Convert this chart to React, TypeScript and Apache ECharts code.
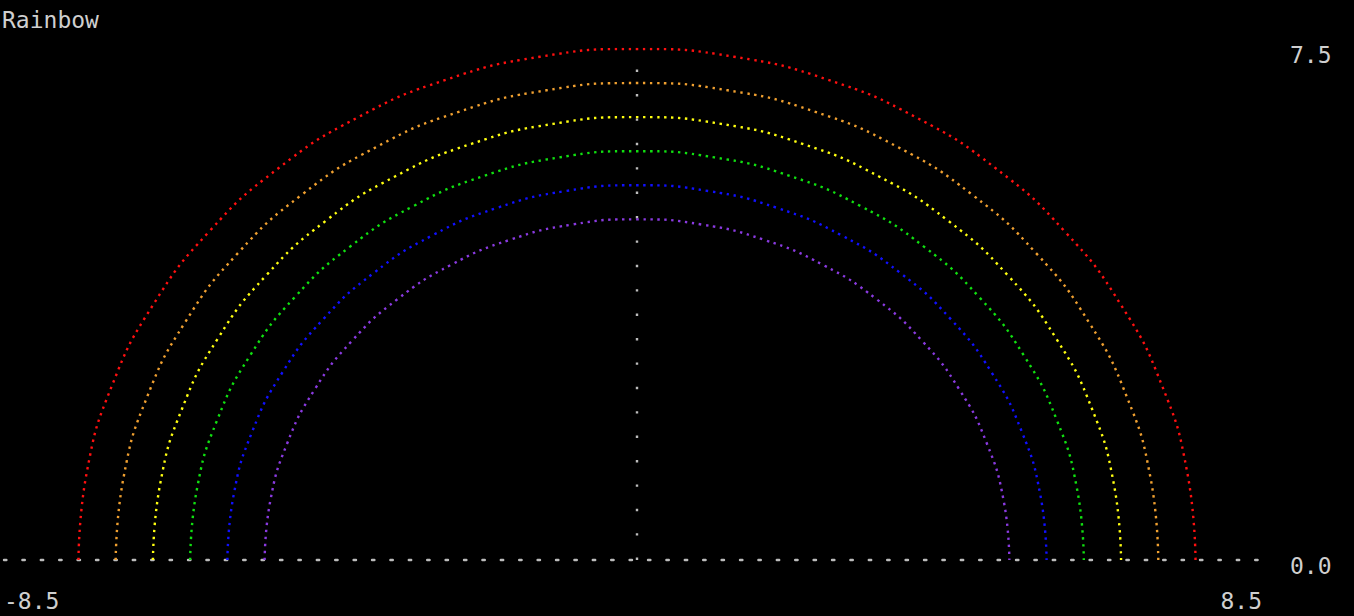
import React, { useEffect, useRef } from "react";
import * as echarts from "echarts";

const title = "Rainbow";
const xMin = -8.5;
const xMax = 8.5;
const yMin = 0;
const yMax = 7.5;

const arcNames = ["red", "orange", "yellow", "green", "blue", "purple"];
const arcColors = ["#ff1010", "#f0a030", "#ffff10", "#10e010", "#1010ff", "#8a3ae0"];

const redArc = [
  [-7.5, 0], [-7.386, 1.302], [-7.048, 2.565], [-6.495, 3.75], [-5.745, 4.821], [-4.821, 5.745],
  [-3.75, 6.495], [-2.565, 7.048], [-1.302, 7.386], [0, 7.5], [1.302, 7.386], [2.565, 7.048],
  [3.75, 6.495], [4.821, 5.745], [5.745, 4.821], [6.495, 3.75], [7.048, 2.565], [7.386, 1.302], [7.5, 0],
];
const orangeArc = [
  [-7, 0], [-6.894, 1.215], [-6.578, 2.394], [-6.062, 3.5], [-5.362, 4.5], [-4.5, 5.362],
  [-3.5, 6.062], [-2.394, 6.578], [-1.215, 6.894], [0, 7], [1.215, 6.894], [2.394, 6.578],
  [3.5, 6.062], [4.5, 5.362], [5.362, 4.5], [6.062, 3.5], [6.578, 2.394], [6.894, 1.215], [7, 0],
];
const yellowArc = [
  [-6.5, 0], [-6.401, 1.128], [-6.108, 2.223], [-5.629, 3.25], [-4.979, 4.178], [-4.178, 4.979],
  [-3.25, 5.629], [-2.223, 6.108], [-1.128, 6.401], [0, 6.5], [1.128, 6.401], [2.223, 6.108],
  [3.25, 5.629], [4.178, 4.979], [4.979, 4.178], [5.629, 3.25], [6.108, 2.223], [6.401, 1.128], [6.5, 0],
];
const greenArc = [
  [-6, 0], [-5.909, 1.042], [-5.638, 2.052], [-5.196, 3], [-4.596, 3.857], [-3.857, 4.596],
  [-3, 5.196], [-2.052, 5.638], [-1.042, 5.909], [0, 6], [1.042, 5.909], [2.052, 5.638],
  [3, 5.196], [3.857, 4.596], [4.596, 3.857], [5.196, 3], [5.638, 2.052], [5.909, 1.042], [6, 0],
];
const blueArc = [
  [-5.5, 0], [-5.416, 0.955], [-5.168, 1.881], [-4.763, 2.75], [-4.213, 3.535], [-3.535, 4.213],
  [-2.75, 4.763], [-1.881, 5.168], [-0.955, 5.416], [0, 5.5], [0.955, 5.416], [1.881, 5.168],
  [2.75, 4.763], [3.535, 4.213], [4.213, 3.535], [4.763, 2.75], [5.168, 1.881], [5.416, 0.955], [5.5, 0],
];
const purpleArc = [
  [-5, 0], [-4.924, 0.868], [-4.698, 1.71], [-4.33, 2.5], [-3.83, 3.214], [-3.214, 3.83],
  [-2.5, 4.33], [-1.71, 4.698], [-0.868, 4.924], [0, 5], [0.868, 4.924], [1.71, 4.698],
  [2.5, 4.33], [3.214, 3.83], [3.83, 3.214], [4.33, 2.5], [4.698, 1.71], [4.924, 0.868], [5, 0],
];
const arcs = [redArc, orangeArc, yellowArc, greenArc, blueArc, purpleArc];

const centerLine = [[0, 0], [0, 7.5]];
const yTicks = [0, 7.5];

const FONT = "'DejaVu Sans Mono', 'Liberation Mono', monospace";
const TEXT = "#cfcfcf";

export default function App() {
  const ref = useRef<HTMLDivElement>(null);
  useEffect(() => {
    if (!ref.current) return;
    const chart = echarts.init(ref.current, null, { renderer: "svg" });
    const arcSeries = arcs.map((d, i) => ({
      name: arcNames[i],
      type: "line",
      data: d,
      smooth: true,
      symbol: "none",
      lineStyle: { color: arcColors[i], width: 2.4, type: [2.4, 4.6], cap: "butt" },
      z: 3,
    }));
    const lbl = { color: TEXT, fontFamily: FONT, fontSize: 23 };
    chart.setOption({
      animation: false,
      backgroundColor: "#000000",
      title: {
        text: title,
        left: 2,
        top: 8,
        padding: 0,
        textStyle: { color: TEXT, fontFamily: FONT, fontSize: 23, fontWeight: "normal" },
      },
      grid: { left: 4, right: 84, top: 49, bottom: 56 },
      xAxis: {
        type: "value",
        min: xMin,
        max: xMax,
        interval: 17,
        splitLine: { show: false },
        axisTick: { show: false },
        axisLine: {
          show: true,
          lineStyle: { color: "#bdbdbd", width: 2.4, type: [2.4, 16] },
        },
        axisLabel: {
          show: true,
          ...lbl,
          margin: 29,
          alignMinLabel: "left",
          alignMaxLabel: "right",
          showMinLabel: true,
          showMaxLabel: true,
          formatter: (v: number) => (v > 0 ? "{r|" + v.toFixed(1) + "}" : "{l|" + v.toFixed(1) + "}"),
          rich: {
            r: { ...lbl, padding: [0, 8, 0, 0] },
            l: { ...lbl, padding: [0, 0, 0, 0] },
          },
        },
      },
      yAxis: {
        type: "value",
        position: "right",
        min: yMin,
        max: yMax,
        interval: 7.5,
        splitLine: { show: false },
        axisTick: { show: false },
        axisLine: { show: false },
        axisLabel: {
          show: true,
          ...lbl,
          margin: 20,
          formatter: (v: number) => (yTicks.includes(v) ? "{a|" + v.toFixed(1) + "}" : ""),
          rich: {
            a: { ...lbl, padding: [11, 0, 0, 0] },
          },
        },
      },
      series: [
        {
          name: "axis",
          type: "line",
          data: centerLine,
          symbol: "none",
          lineStyle: { color: "#bdbdbd", width: 2.4, type: [2.4, 22], cap: "butt" },
          z: 2,
        },
        ...arcSeries,
      ],
    });
    return () => chart.dispose();
  }, []);
  return (
    <div
      ref={ref}
      style={{ position: "fixed", left: 0, top: 0, width: 1354, height: 616, background: "#000" }}
    />
  );
}
